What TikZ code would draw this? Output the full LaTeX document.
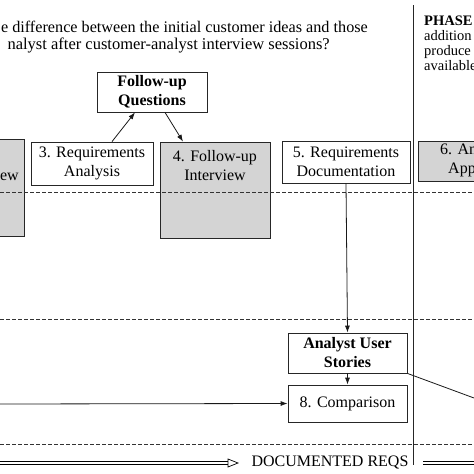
\documentclass[tikz,border=0pt]{standalone}
\usepackage{fontspec}
\setmainfont{Liberation Serif}
\usetikzlibrary{arrows.meta,calc,positioning}

\begin{document}
\begin{tikzpicture}[x=1pt,y=-1pt,
            txt/.style={inner sep=0pt,font=\fontsize{16}{19}\selectfont,align=center},
            stepbox/.style={draw=black!85,line width=.8pt,fill=white,txt},
            graybox/.style={stepbox,fill=black!17},
            boldbox/.style={stepbox,font=\fontsize{16}{19}\selectfont\bfseries},
            sep/.style={draw=black!80,line width=.7pt,dash pattern=on 3.5pt off 2.5pt},
            link/.style={draw=black!90,line width=.8pt,-{Latex[length=7pt,width=5pt]}},
            rail/.style={line width=.6pt,double=white,double distance=2pt}
          ]
          \clip (0,0) rectangle (474,474);

          %question text
          \node[txt,anchor=east,font=\fontsize{16.2}{18}\selectfont] (q1) at (368,27) {e difference between the initial customer ideas and those};
          \node[txt,anchor=east,font=\fontsize{16.5}{18}\selectfont] (q2) at (330,45) {nalyst after customer-analyst interview sessions?};
          \node[txt,anchor=north west,align=left,font=\fontsize{14.5}{15}\selectfont] (ph) at (424,16)
            {\textbf{PHASE}\\addition\\produce\\available};

          %boxes
          \node[graybox,minimum width=84,minimum height=97] (b2) at (-18,187.5) {};
          \node[txt,anchor=east] (b2t) at (19,177) {ew};
          \node[boldbox,minimum width=110,minimum height=40] (fuq) at (152,92) {Follow-up\\Questions};
          \node[stepbox,minimum width=122,minimum height=43] (b3) at (92,163.5) {3. Requirements\\Analysis};
          \node[graybox,minimum width=110,minimum height=96] (b4) at (215,190) {};
          \node[txt,anchor=north] (b4t) at (215,150) {4. Follow-up\\Interview};
          \node[stepbox,minimum width=128,minimum height=42] (b5) at (346,162) {5. Requirements\\Documentation};
          \node[graybox,minimum width=90,minimum height=40] (b6) at (463,161) {};
          \node[txt,anchor=north west,align=left] (b6t) at (440,144) {6. An\\\hspace*{8pt}App};

          %separators
          \draw[sep] (0,192) -- (474,192);
          \draw[sep] (0,319) -- (474,319);
          \draw[sep] (0,444) -- (474,444);
          \draw[draw=black!85,line width=.8pt] (413,5) -- (413,465);

          \node[boldbox,minimum width=119,minimum height=40] (aus) at (347.5,353) {Analyst User\\Stories};
          \node[stepbox,minimum width=119,minimum height=37] (cmp) at (347.5,403.5) {8. Comparison};

          %bottom
          \node[txt] (doc) at (330,462) {DOCUMENTED REQS};
          \coordinate (dl) at (0,463);
          \coordinate (dh) at (228,463);
          \coordinate (dr) at (474,463);
          \coordinate (cl) at (0,404);
          \coordinate (ce) at (474,398);
          \draw[rail] (dl) -- (dh);
          \draw[line width=.7pt,fill=white] ($(dh)+(0,-4)$) -- ($(dh)+(10,0)$) -- ($(dh)+(0,4)$) -- cycle;
          \draw[rail] (423,463) -- (dr);

          \path
          ($(b3.north)+(20,0)$) edge[link] ($(fuq.south)+(-17,0)$)
          ($(fuq.south)+(13,0)$) edge[link] ($(b4.north)+(-32,0)$)
          (b5.south) edge[link] (aus.north)
          (aus.south) edge[link] (cmp.north)
          (cl) edge[link] (cmp.west)
          (aus.south east) edge[draw=black!90,line width=.8pt] (ce)
          ;
\end{tikzpicture}
\end{document}
